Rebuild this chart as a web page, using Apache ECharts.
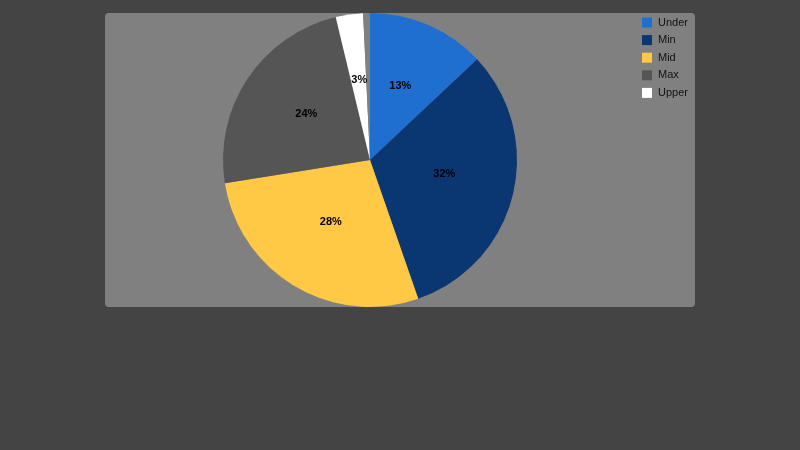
<!DOCTYPE html>
<html>
<head>
<meta charset="utf-8">
<script src="https://cdn.jsdelivr.net/npm/echarts@6/dist/echarts.min.js"></script>
<style>
html,body{margin:0;padding:0;background:#444444;}
#c{width:800px;height:450px;}
</style>
</head>
<body>
<div id="c"></div>
<script>
var categories = ['Under', 'Min', 'Mid', 'Max', 'Upper'];
var values = [13.0, 31.7, 27.8, 23.8, 3.0];
var remainder = 0.75;
var colors = ['#1f6fd1', '#0a3672', '#ffc845', '#555555', '#ffffff'];

var data = categories.map(function (n, i) {
  return { name: n, value: values[i], itemStyle: { color: colors[i] } };
});
data.push({ name: '', value: remainder, itemStyle: { color: '#808080' }, label: { show: false }, emphasis: { disabled: true } });

var chart = echarts.init(document.getElementById('c'), null, { renderer: 'canvas' });
chart.setOption({
  backgroundColor: '#444444',
  animation: false,
  graphic: [{
    type: 'rect', z: -10, silent: true,
    shape: { x: 105, y: 13, width: 590, height: 294, r: 4 },
    style: { fill: '#808080' }
  }],
  legend: {
    data: categories,
    orient: 'vertical',
    left: 637,
    top: 12,
    padding: [5, 5, 5, 5],
    icon: 'rect',
    itemWidth: 10,
    itemHeight: 10,
    itemGap: 6.6,
    textStyle: { color: '#111111', fontSize: 11, fontFamily: 'Liberation Sans, Arial, sans-serif', padding: [0, 0, 0, 1] }
  },
  series: [{
    type: 'pie',
    center: [370, 160],
    radius: [0, 147],
    startAngle: 90,
    clockwise: true,
    avoidLabelOverlap: false,
    label: {
      show: true,
      position: 'inside',
      formatter: function (p) { return Math.round(p.value) + '%'; },
      color: '#000000',
      fontWeight: 'bold',
      fontSize: 11,
      fontFamily: 'Liberation Sans, Arial, sans-serif',
      offset: [0, -4]
    },
    labelLine: { show: false },
    itemStyle: { borderWidth: 0 },
    data: data
  }]
});
</script>
</body>
</html>
